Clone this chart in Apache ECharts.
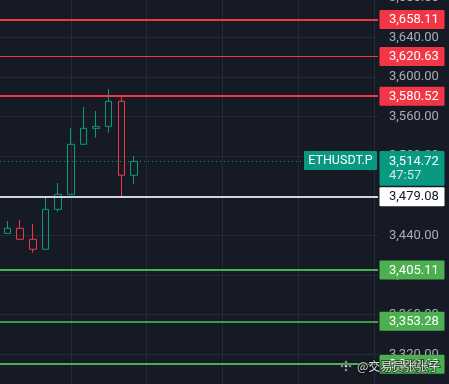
<!DOCTYPE html>
<html>
<head>
<meta charset="utf-8">
<script src="https://cdn.jsdelivr.net/npm/echarts@6/dist/echarts.min.js"></script>
<style>
html,body{margin:0;padding:0;background:#161a25;overflow:hidden;}
#c{width:449px;height:384px;}
</style>
</head>
<body>
<div id="c"></div>
<script>
// ---- data ----
const candleOpen  = [3442.1, 3447.2, 3436.1, 3426.0, 3466.3, 3481.5, 3532.0, 3548.1, 3550.1, 3575.4, 3500.7];
const candleClose = [3447.2, 3436.1, 3426.0, 3466.3, 3481.5, 3532.0, 3548.1, 3550.1, 3575.4, 3500.7, 3514.72];
const candleLow   = [3442.1, 3436.1, 3422.6, 3426.0, 3464.0, 3481.5, 3532.0, 3538.7, 3543.7, 3478.1, 3492.2];
const candleHigh  = [3454.6, 3455.6, 3451.5, 3479.1, 3492.9, 3548.1, 3569.6, 3565.6, 3587.8, 3581.0, 3520.2];

const levelPrices = [3658.11, 3620.63, 3580.52, 3479.08, 3405.11, 3353.28, 3310.02];
const levelKinds  = ['sell', 'sell', 'sell', 'mark', 'buy', 'buy', 'buy'];

const lastPrice  = 3514.72;
const symbolName = 'ETHUSDT.P';
const countdown  = '47:57';
const timeGridBars = [5, 11, 17, 23, 29];   // bar indices where vertical grid lines fall
const watermarkText = '@交易员张张子';

// ---- styles ----
const BG = '#161a25';
const GRID = '#262a36';
const UP = '#089981', DOWN = '#f23645';
const kindStyle = {
  sell: {line: '#f23645', box: '#f23645', text: '#ffffff'},
  mark: {line: '#d1d4dc', box: '#ffffff', text: '#131722'},
  buy:  {line: '#4caf50', box: '#4caf50', text: '#ffffff'}
};
function lineWidthFor(i){ return i === 1 ? 1.2 : 2; }
function lineColorFor(i){ return i === 5 ? '#3f9a44' : kindStyle[levelKinds[i]].line; }

const fmt = v => Number(v).toLocaleString('en-US', {minimumFractionDigits: 2, maximumFractionDigits: 2});

const chart = echarts.init(document.getElementById('c'), null, {renderer: 'canvas'});

const candleData = candleOpen.map((o, i) => [i, o, candleClose[i], candleLow[i], candleHigh[i]]);

const option = {
  backgroundColor: BG,
  animation: false,
  grid: {left: 0, right: 71, top: -2.3, bottom: -9.9, containLabel: false, outerBoundsMode: 'none'},
  xAxis: {
    type: 'value', min: -0.6, max: 29.3,
    axisLine: {show: false}, axisTick: {show: false}, axisLabel: {show: false}, splitLine: {show: false}
  },
  yAxis: {
    type: 'value', position: 'right', min: 3280, max: 3680, interval: 40,
    axisLine: {show: false}, axisTick: {show: false},
    splitLine: {show: true, lineStyle: {color: GRID, width: 1}},
    axisLabel: {
      color: '#a9acb5', fontSize: 13, fontFamily: 'Roboto', margin: 11,
      formatter: v => fmt(v)
    }
  },
  series: [
    {
      type: 'line', data: [], silent: true, z: 1,
      markLine: {
        silent: true, symbol: ['none', 'none'], z: 1, animation: false,
        label: {show: false},
        lineStyle: {color: GRID, width: 1, type: 'solid'},
        data: timeGridBars.map(b => ({xAxis: b}))
      }
    },
    {
      type: 'candlestick', data: candleData, barWidth: 7, z: 3,
      itemStyle: {color: 'transparent', color0: 'transparent', borderColor: UP, borderColor0: DOWN, borderWidth: 1}
    },
    {
      type: 'line', data: [], silent: true, z: 4,
      markLine: {
        silent: true, symbol: ['none', 'none'], z: 4, animation: false,
        label: {show: false},
        data: [{yAxis: lastPrice, lineStyle: {color: UP, width: 1, type: [1, 3]}}].concat(
          levelPrices.map((p, i) => ({yAxis: p, lineStyle: {color: lineColorFor(i), width: lineWidthFor(i), type: 'solid', opacity: 1}}))
        )
      }
    }
  ]
};
chart.setOption(option);

// ---- price-scale labels, positioned with the axis scale ----
const plotRight = chart.convertToPixel({xAxisIndex: 0}, 29.3);
const py = p => chart.convertToPixel({yAxisIndex: 0}, p);
const boxX = plotRight + 1.5, boxW = 65, textX = plotRight + 11;
const font = '13px Roboto';
const els = [];

levelPrices.forEach((p, i) => {
  const st = kindStyle[levelKinds[i]];
  const y = py(p);
  els.push({type: 'rect', z: 100, shape: {x: boxX, y: y - 9.5, width: boxW, height: 19, r: 1}, style: {fill: st.box}});
  els.push({type: 'text', z: 101, style: {text: fmt(p), x: textX, y: y + 0.5, font: font, fill: st.text, verticalAlign: 'middle', align: 'left'}});
});

const yl = py(lastPrice);
// symbol tag on the last-price line
els.push({type: 'rect', z: 100, shape: {x: plotRight - 74, y: yl - 10.4, width: 73, height: 19, r: 1}, style: {fill: UP}});
els.push({type: 'text', z: 101, style: {text: symbolName, x: plotRight - 37.5, y: yl - 0.6, font: '12.5px Roboto', fill: '#ffffff', verticalAlign: 'middle', align: 'center'}});
// price + countdown box
els.push({type: 'rect', z: 100, shape: {x: boxX, y: yl - 10.4, width: boxW, height: 34.7, r: 1}, style: {fill: UP}});
els.push({type: 'text', z: 101, style: {text: fmt(lastPrice), x: textX, y: yl + 0.5, font: font, fill: '#ffffff', verticalAlign: 'middle', align: 'left'}});
els.push({type: 'text', z: 101, style: {text: countdown, x: textX, y: yl + 14.2, font: font, fill: 'rgba(255,255,255,0.8)', verticalAlign: 'middle', align: 'left'}});

// watermark
const wy = 366, wx = 346;
const dia = (cx, cy, s) => ({type: 'polygon', z: 110, shape: {points: [[cx, cy - s], [cx + s, cy], [cx, cy + s], [cx - s, cy]]}, style: {fill: '#e8e8e8', stroke: '#222', lineWidth: 0.6}});
els.push(dia(wx, wy, 1.8), dia(wx, wy - 4, 1.4), dia(wx, wy + 4, 1.4), dia(wx - 4, wy, 1.4), dia(wx + 4, wy, 1.4));
els.push({type: 'text', z: 110, style: {text: watermarkText, x: 357, y: wy, font: '12px "Noto Sans CJK SC"', fill: 'rgba(235,235,235,0.92)', stroke: 'rgba(0,0,0,0.55)', lineWidth: 2, verticalAlign: 'middle', align: 'left'}});

chart.setOption({graphic: {elements: els}});
</script>
</body>
</html>
